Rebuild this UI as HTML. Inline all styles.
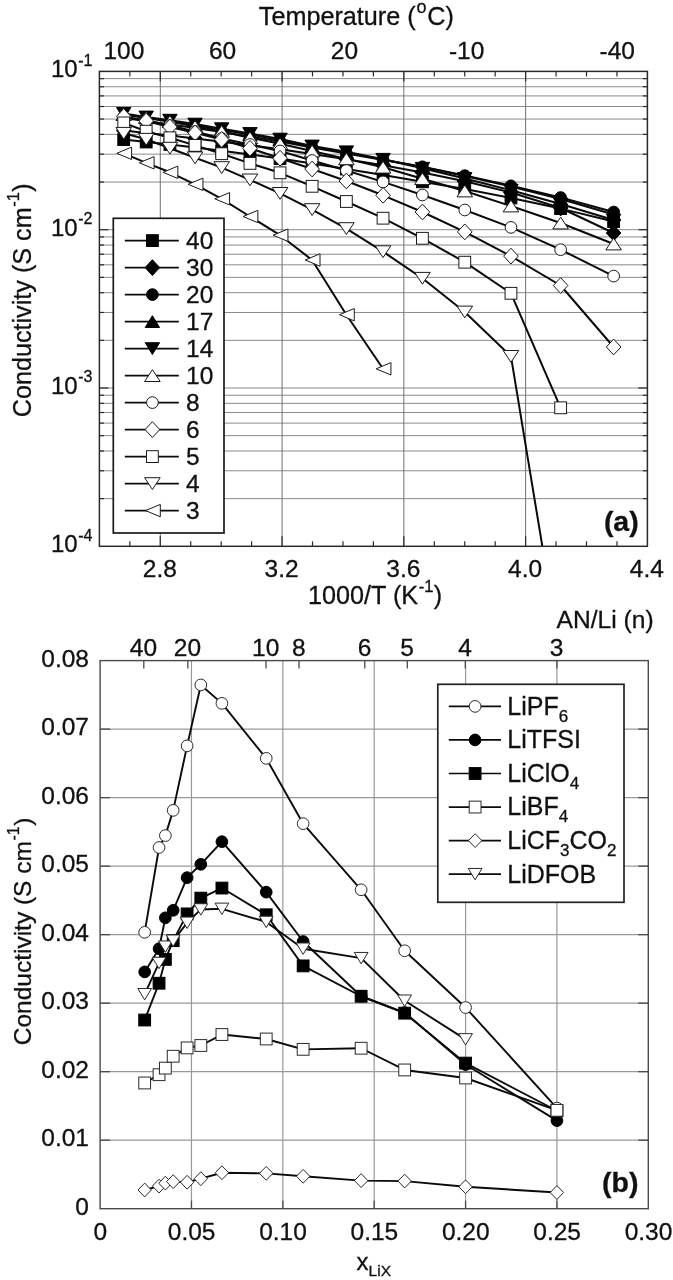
<!DOCTYPE html>
<html><head><meta charset="utf-8"><title>Conductivity</title>
<style>html,body{margin:0;padding:0;background:#fff}svg{display:block}text{font-family:"Liberation Sans", sans-serif;fill:#111;stroke:#111;stroke-width:0.3px}</style></head><body>
<svg width="673" height="1280" viewBox="0 0 673 1280">
<rect x="0" y="0" width="673" height="1280" fill="#fff"/>
<g id="chart-a">
<line x1="99.40" y1="229.70" x2="647.40" y2="229.70" stroke="#8a8a8a" stroke-width="1.0"/>
<line x1="99.40" y1="182.05" x2="647.40" y2="182.05" stroke="#8a8a8a" stroke-width="1.0"/>
<line x1="99.40" y1="154.17" x2="647.40" y2="154.17" stroke="#8a8a8a" stroke-width="1.0"/>
<line x1="99.40" y1="134.39" x2="647.40" y2="134.39" stroke="#8a8a8a" stroke-width="1.0"/>
<line x1="99.40" y1="119.05" x2="647.40" y2="119.05" stroke="#8a8a8a" stroke-width="1.0"/>
<line x1="99.40" y1="106.52" x2="647.40" y2="106.52" stroke="#8a8a8a" stroke-width="1.0"/>
<line x1="99.40" y1="95.92" x2="647.40" y2="95.92" stroke="#8a8a8a" stroke-width="1.0"/>
<line x1="99.40" y1="86.74" x2="647.40" y2="86.74" stroke="#8a8a8a" stroke-width="1.0"/>
<line x1="99.40" y1="78.64" x2="647.40" y2="78.64" stroke="#8a8a8a" stroke-width="1.0"/>
<line x1="99.40" y1="388.00" x2="647.40" y2="388.00" stroke="#8a8a8a" stroke-width="1.0"/>
<line x1="99.40" y1="340.35" x2="647.40" y2="340.35" stroke="#8a8a8a" stroke-width="1.0"/>
<line x1="99.40" y1="312.47" x2="647.40" y2="312.47" stroke="#8a8a8a" stroke-width="1.0"/>
<line x1="99.40" y1="292.69" x2="647.40" y2="292.69" stroke="#8a8a8a" stroke-width="1.0"/>
<line x1="99.40" y1="277.35" x2="647.40" y2="277.35" stroke="#8a8a8a" stroke-width="1.0"/>
<line x1="99.40" y1="264.82" x2="647.40" y2="264.82" stroke="#8a8a8a" stroke-width="1.0"/>
<line x1="99.40" y1="254.22" x2="647.40" y2="254.22" stroke="#8a8a8a" stroke-width="1.0"/>
<line x1="99.40" y1="245.04" x2="647.40" y2="245.04" stroke="#8a8a8a" stroke-width="1.0"/>
<line x1="99.40" y1="236.94" x2="647.40" y2="236.94" stroke="#8a8a8a" stroke-width="1.0"/>
<line x1="99.40" y1="498.65" x2="647.40" y2="498.65" stroke="#8a8a8a" stroke-width="1.0"/>
<line x1="99.40" y1="470.77" x2="647.40" y2="470.77" stroke="#8a8a8a" stroke-width="1.0"/>
<line x1="99.40" y1="450.99" x2="647.40" y2="450.99" stroke="#8a8a8a" stroke-width="1.0"/>
<line x1="99.40" y1="435.65" x2="647.40" y2="435.65" stroke="#8a8a8a" stroke-width="1.0"/>
<line x1="99.40" y1="423.12" x2="647.40" y2="423.12" stroke="#8a8a8a" stroke-width="1.0"/>
<line x1="99.40" y1="412.52" x2="647.40" y2="412.52" stroke="#8a8a8a" stroke-width="1.0"/>
<line x1="99.40" y1="403.34" x2="647.40" y2="403.34" stroke="#8a8a8a" stroke-width="1.0"/>
<line x1="99.40" y1="395.24" x2="647.40" y2="395.24" stroke="#8a8a8a" stroke-width="1.0"/>
<line x1="160.29" y1="71.40" x2="160.29" y2="546.30" stroke="#707070" stroke-width="1.0"/>
<line x1="282.07" y1="71.40" x2="282.07" y2="546.30" stroke="#707070" stroke-width="1.0"/>
<line x1="403.84" y1="71.40" x2="403.84" y2="546.30" stroke="#707070" stroke-width="1.0"/>
<line x1="525.62" y1="71.40" x2="525.62" y2="546.30" stroke="#707070" stroke-width="1.0"/>
<line x1="99.40" y1="229.70" x2="108.40" y2="229.70" stroke="#2a2a2a" stroke-width="1.2"/>
<line x1="638.40" y1="229.70" x2="647.40" y2="229.70" stroke="#2a2a2a" stroke-width="1.2"/>
<line x1="99.40" y1="182.05" x2="104.00" y2="182.05" stroke="#2a2a2a" stroke-width="1.2"/>
<line x1="642.80" y1="182.05" x2="647.40" y2="182.05" stroke="#2a2a2a" stroke-width="1.2"/>
<line x1="99.40" y1="154.17" x2="104.00" y2="154.17" stroke="#2a2a2a" stroke-width="1.2"/>
<line x1="642.80" y1="154.17" x2="647.40" y2="154.17" stroke="#2a2a2a" stroke-width="1.2"/>
<line x1="99.40" y1="134.39" x2="104.00" y2="134.39" stroke="#2a2a2a" stroke-width="1.2"/>
<line x1="642.80" y1="134.39" x2="647.40" y2="134.39" stroke="#2a2a2a" stroke-width="1.2"/>
<line x1="99.40" y1="119.05" x2="104.00" y2="119.05" stroke="#2a2a2a" stroke-width="1.2"/>
<line x1="642.80" y1="119.05" x2="647.40" y2="119.05" stroke="#2a2a2a" stroke-width="1.2"/>
<line x1="99.40" y1="106.52" x2="104.00" y2="106.52" stroke="#2a2a2a" stroke-width="1.2"/>
<line x1="642.80" y1="106.52" x2="647.40" y2="106.52" stroke="#2a2a2a" stroke-width="1.2"/>
<line x1="99.40" y1="95.92" x2="104.00" y2="95.92" stroke="#2a2a2a" stroke-width="1.2"/>
<line x1="642.80" y1="95.92" x2="647.40" y2="95.92" stroke="#2a2a2a" stroke-width="1.2"/>
<line x1="99.40" y1="86.74" x2="104.00" y2="86.74" stroke="#2a2a2a" stroke-width="1.2"/>
<line x1="642.80" y1="86.74" x2="647.40" y2="86.74" stroke="#2a2a2a" stroke-width="1.2"/>
<line x1="99.40" y1="78.64" x2="104.00" y2="78.64" stroke="#2a2a2a" stroke-width="1.2"/>
<line x1="642.80" y1="78.64" x2="647.40" y2="78.64" stroke="#2a2a2a" stroke-width="1.2"/>
<line x1="99.40" y1="388.00" x2="108.40" y2="388.00" stroke="#2a2a2a" stroke-width="1.2"/>
<line x1="638.40" y1="388.00" x2="647.40" y2="388.00" stroke="#2a2a2a" stroke-width="1.2"/>
<line x1="99.40" y1="340.35" x2="104.00" y2="340.35" stroke="#2a2a2a" stroke-width="1.2"/>
<line x1="642.80" y1="340.35" x2="647.40" y2="340.35" stroke="#2a2a2a" stroke-width="1.2"/>
<line x1="99.40" y1="312.47" x2="104.00" y2="312.47" stroke="#2a2a2a" stroke-width="1.2"/>
<line x1="642.80" y1="312.47" x2="647.40" y2="312.47" stroke="#2a2a2a" stroke-width="1.2"/>
<line x1="99.40" y1="292.69" x2="104.00" y2="292.69" stroke="#2a2a2a" stroke-width="1.2"/>
<line x1="642.80" y1="292.69" x2="647.40" y2="292.69" stroke="#2a2a2a" stroke-width="1.2"/>
<line x1="99.40" y1="277.35" x2="104.00" y2="277.35" stroke="#2a2a2a" stroke-width="1.2"/>
<line x1="642.80" y1="277.35" x2="647.40" y2="277.35" stroke="#2a2a2a" stroke-width="1.2"/>
<line x1="99.40" y1="264.82" x2="104.00" y2="264.82" stroke="#2a2a2a" stroke-width="1.2"/>
<line x1="642.80" y1="264.82" x2="647.40" y2="264.82" stroke="#2a2a2a" stroke-width="1.2"/>
<line x1="99.40" y1="254.22" x2="104.00" y2="254.22" stroke="#2a2a2a" stroke-width="1.2"/>
<line x1="642.80" y1="254.22" x2="647.40" y2="254.22" stroke="#2a2a2a" stroke-width="1.2"/>
<line x1="99.40" y1="245.04" x2="104.00" y2="245.04" stroke="#2a2a2a" stroke-width="1.2"/>
<line x1="642.80" y1="245.04" x2="647.40" y2="245.04" stroke="#2a2a2a" stroke-width="1.2"/>
<line x1="99.40" y1="236.94" x2="104.00" y2="236.94" stroke="#2a2a2a" stroke-width="1.2"/>
<line x1="642.80" y1="236.94" x2="647.40" y2="236.94" stroke="#2a2a2a" stroke-width="1.2"/>
<line x1="99.40" y1="498.65" x2="104.00" y2="498.65" stroke="#2a2a2a" stroke-width="1.2"/>
<line x1="642.80" y1="498.65" x2="647.40" y2="498.65" stroke="#2a2a2a" stroke-width="1.2"/>
<line x1="99.40" y1="470.77" x2="104.00" y2="470.77" stroke="#2a2a2a" stroke-width="1.2"/>
<line x1="642.80" y1="470.77" x2="647.40" y2="470.77" stroke="#2a2a2a" stroke-width="1.2"/>
<line x1="99.40" y1="450.99" x2="104.00" y2="450.99" stroke="#2a2a2a" stroke-width="1.2"/>
<line x1="642.80" y1="450.99" x2="647.40" y2="450.99" stroke="#2a2a2a" stroke-width="1.2"/>
<line x1="99.40" y1="435.65" x2="104.00" y2="435.65" stroke="#2a2a2a" stroke-width="1.2"/>
<line x1="642.80" y1="435.65" x2="647.40" y2="435.65" stroke="#2a2a2a" stroke-width="1.2"/>
<line x1="99.40" y1="423.12" x2="104.00" y2="423.12" stroke="#2a2a2a" stroke-width="1.2"/>
<line x1="642.80" y1="423.12" x2="647.40" y2="423.12" stroke="#2a2a2a" stroke-width="1.2"/>
<line x1="99.40" y1="412.52" x2="104.00" y2="412.52" stroke="#2a2a2a" stroke-width="1.2"/>
<line x1="642.80" y1="412.52" x2="647.40" y2="412.52" stroke="#2a2a2a" stroke-width="1.2"/>
<line x1="99.40" y1="403.34" x2="104.00" y2="403.34" stroke="#2a2a2a" stroke-width="1.2"/>
<line x1="642.80" y1="403.34" x2="647.40" y2="403.34" stroke="#2a2a2a" stroke-width="1.2"/>
<line x1="99.40" y1="395.24" x2="104.00" y2="395.24" stroke="#2a2a2a" stroke-width="1.2"/>
<line x1="642.80" y1="395.24" x2="647.40" y2="395.24" stroke="#2a2a2a" stroke-width="1.2"/>
<line x1="129.84" y1="541.30" x2="129.84" y2="546.30" stroke="#2a2a2a" stroke-width="1.2"/>
<line x1="129.84" y1="71.40" x2="129.84" y2="76.40" stroke="#2a2a2a" stroke-width="1.2"/>
<line x1="160.29" y1="536.30" x2="160.29" y2="546.30" stroke="#2a2a2a" stroke-width="1.2"/>
<line x1="160.29" y1="71.40" x2="160.29" y2="81.40" stroke="#2a2a2a" stroke-width="1.2"/>
<line x1="190.73" y1="541.30" x2="190.73" y2="546.30" stroke="#2a2a2a" stroke-width="1.2"/>
<line x1="190.73" y1="71.40" x2="190.73" y2="76.40" stroke="#2a2a2a" stroke-width="1.2"/>
<line x1="221.18" y1="541.30" x2="221.18" y2="546.30" stroke="#2a2a2a" stroke-width="1.2"/>
<line x1="221.18" y1="71.40" x2="221.18" y2="76.40" stroke="#2a2a2a" stroke-width="1.2"/>
<line x1="251.62" y1="541.30" x2="251.62" y2="546.30" stroke="#2a2a2a" stroke-width="1.2"/>
<line x1="251.62" y1="71.40" x2="251.62" y2="76.40" stroke="#2a2a2a" stroke-width="1.2"/>
<line x1="282.07" y1="536.30" x2="282.07" y2="546.30" stroke="#2a2a2a" stroke-width="1.2"/>
<line x1="282.07" y1="71.40" x2="282.07" y2="81.40" stroke="#2a2a2a" stroke-width="1.2"/>
<line x1="312.51" y1="541.30" x2="312.51" y2="546.30" stroke="#2a2a2a" stroke-width="1.2"/>
<line x1="312.51" y1="71.40" x2="312.51" y2="76.40" stroke="#2a2a2a" stroke-width="1.2"/>
<line x1="342.96" y1="541.30" x2="342.96" y2="546.30" stroke="#2a2a2a" stroke-width="1.2"/>
<line x1="342.96" y1="71.40" x2="342.96" y2="76.40" stroke="#2a2a2a" stroke-width="1.2"/>
<line x1="373.40" y1="541.30" x2="373.40" y2="546.30" stroke="#2a2a2a" stroke-width="1.2"/>
<line x1="373.40" y1="71.40" x2="373.40" y2="76.40" stroke="#2a2a2a" stroke-width="1.2"/>
<line x1="403.84" y1="536.30" x2="403.84" y2="546.30" stroke="#2a2a2a" stroke-width="1.2"/>
<line x1="403.84" y1="71.40" x2="403.84" y2="81.40" stroke="#2a2a2a" stroke-width="1.2"/>
<line x1="434.29" y1="541.30" x2="434.29" y2="546.30" stroke="#2a2a2a" stroke-width="1.2"/>
<line x1="434.29" y1="71.40" x2="434.29" y2="76.40" stroke="#2a2a2a" stroke-width="1.2"/>
<line x1="464.73" y1="541.30" x2="464.73" y2="546.30" stroke="#2a2a2a" stroke-width="1.2"/>
<line x1="464.73" y1="71.40" x2="464.73" y2="76.40" stroke="#2a2a2a" stroke-width="1.2"/>
<line x1="495.18" y1="541.30" x2="495.18" y2="546.30" stroke="#2a2a2a" stroke-width="1.2"/>
<line x1="495.18" y1="71.40" x2="495.18" y2="76.40" stroke="#2a2a2a" stroke-width="1.2"/>
<line x1="525.62" y1="536.30" x2="525.62" y2="546.30" stroke="#2a2a2a" stroke-width="1.2"/>
<line x1="525.62" y1="71.40" x2="525.62" y2="81.40" stroke="#2a2a2a" stroke-width="1.2"/>
<line x1="556.07" y1="541.30" x2="556.07" y2="546.30" stroke="#2a2a2a" stroke-width="1.2"/>
<line x1="556.07" y1="71.40" x2="556.07" y2="76.40" stroke="#2a2a2a" stroke-width="1.2"/>
<line x1="586.51" y1="541.30" x2="586.51" y2="546.30" stroke="#2a2a2a" stroke-width="1.2"/>
<line x1="586.51" y1="71.40" x2="586.51" y2="76.40" stroke="#2a2a2a" stroke-width="1.2"/>
<line x1="616.96" y1="541.30" x2="616.96" y2="546.30" stroke="#2a2a2a" stroke-width="1.2"/>
<line x1="616.96" y1="71.40" x2="616.96" y2="76.40" stroke="#2a2a2a" stroke-width="1.2"/>
<clipPath id="clipA"><rect x="99.4" y="71.4" width="548.0" height="474.9"/></clipPath>
<g clip-path="url(#clipA)">
<polyline points="123.72,139.60 146.19,142.00 169.93,144.40 195.05,147.50 221.68,150.80 249.96,154.50 280.04,158.50 312.11,163.50 346.37,169.00 383.05,175.00 422.41,181.80 464.77,189.00 510.97,198.00 560.63,208.60 613.63,221.50" fill="none" stroke="#0a0a0a" stroke-width="2.0" stroke-linejoin="round" />
<rect x="117.82" y="133.70" width="11.80" height="11.80" fill="#000" stroke="#000" stroke-width="1.0" stroke-linejoin="miter"/>
<rect x="140.29" y="136.10" width="11.80" height="11.80" fill="#000" stroke="#000" stroke-width="1.0" stroke-linejoin="miter"/>
<rect x="164.03" y="138.50" width="11.80" height="11.80" fill="#000" stroke="#000" stroke-width="1.0" stroke-linejoin="miter"/>
<rect x="189.15" y="141.60" width="11.80" height="11.80" fill="#000" stroke="#000" stroke-width="1.0" stroke-linejoin="miter"/>
<rect x="215.78" y="144.90" width="11.80" height="11.80" fill="#000" stroke="#000" stroke-width="1.0" stroke-linejoin="miter"/>
<rect x="244.06" y="148.60" width="11.80" height="11.80" fill="#000" stroke="#000" stroke-width="1.0" stroke-linejoin="miter"/>
<rect x="274.14" y="152.60" width="11.80" height="11.80" fill="#000" stroke="#000" stroke-width="1.0" stroke-linejoin="miter"/>
<rect x="306.21" y="157.60" width="11.80" height="11.80" fill="#000" stroke="#000" stroke-width="1.0" stroke-linejoin="miter"/>
<rect x="340.47" y="163.10" width="11.80" height="11.80" fill="#000" stroke="#000" stroke-width="1.0" stroke-linejoin="miter"/>
<rect x="377.15" y="169.10" width="11.80" height="11.80" fill="#000" stroke="#000" stroke-width="1.0" stroke-linejoin="miter"/>
<rect x="416.51" y="175.90" width="11.80" height="11.80" fill="#000" stroke="#000" stroke-width="1.0" stroke-linejoin="miter"/>
<rect x="458.87" y="183.10" width="11.80" height="11.80" fill="#000" stroke="#000" stroke-width="1.0" stroke-linejoin="miter"/>
<rect x="505.07" y="192.10" width="11.80" height="11.80" fill="#000" stroke="#000" stroke-width="1.0" stroke-linejoin="miter"/>
<rect x="554.73" y="202.70" width="11.80" height="11.80" fill="#000" stroke="#000" stroke-width="1.0" stroke-linejoin="miter"/>
<rect x="607.73" y="215.60" width="11.80" height="11.80" fill="#000" stroke="#000" stroke-width="1.0" stroke-linejoin="miter"/>
<polyline points="123.72,130.50 146.19,133.00 169.93,135.60 195.05,138.50 221.68,141.80 249.96,145.30 280.04,149.30 312.11,154.00 346.37,159.20 383.05,165.30 422.41,172.40 464.77,181.20 510.97,192.50 560.63,208.00 613.63,233.00" fill="none" stroke="#0a0a0a" stroke-width="2.0" stroke-linejoin="round" />
<polygon points="123.72,122.60 131.02,130.50 123.72,138.40 116.42,130.50" fill="#000" stroke="#000" stroke-width="1.0" stroke-linejoin="miter"/>
<polygon points="146.19,125.10 153.49,133.00 146.19,140.90 138.89,133.00" fill="#000" stroke="#000" stroke-width="1.0" stroke-linejoin="miter"/>
<polygon points="169.93,127.70 177.23,135.60 169.93,143.50 162.63,135.60" fill="#000" stroke="#000" stroke-width="1.0" stroke-linejoin="miter"/>
<polygon points="195.05,130.60 202.35,138.50 195.05,146.40 187.75,138.50" fill="#000" stroke="#000" stroke-width="1.0" stroke-linejoin="miter"/>
<polygon points="221.68,133.90 228.98,141.80 221.68,149.70 214.38,141.80" fill="#000" stroke="#000" stroke-width="1.0" stroke-linejoin="miter"/>
<polygon points="249.96,137.40 257.26,145.30 249.96,153.20 242.66,145.30" fill="#000" stroke="#000" stroke-width="1.0" stroke-linejoin="miter"/>
<polygon points="280.04,141.40 287.34,149.30 280.04,157.20 272.74,149.30" fill="#000" stroke="#000" stroke-width="1.0" stroke-linejoin="miter"/>
<polygon points="312.11,146.10 319.41,154.00 312.11,161.90 304.81,154.00" fill="#000" stroke="#000" stroke-width="1.0" stroke-linejoin="miter"/>
<polygon points="346.37,151.30 353.67,159.20 346.37,167.10 339.07,159.20" fill="#000" stroke="#000" stroke-width="1.0" stroke-linejoin="miter"/>
<polygon points="383.05,157.40 390.35,165.30 383.05,173.20 375.75,165.30" fill="#000" stroke="#000" stroke-width="1.0" stroke-linejoin="miter"/>
<polygon points="422.41,164.50 429.71,172.40 422.41,180.30 415.11,172.40" fill="#000" stroke="#000" stroke-width="1.0" stroke-linejoin="miter"/>
<polygon points="464.77,173.30 472.07,181.20 464.77,189.10 457.47,181.20" fill="#000" stroke="#000" stroke-width="1.0" stroke-linejoin="miter"/>
<polygon points="510.97,184.60 518.27,192.50 510.97,200.40 503.67,192.50" fill="#000" stroke="#000" stroke-width="1.0" stroke-linejoin="miter"/>
<polygon points="560.63,200.10 567.93,208.00 560.63,215.90 553.33,208.00" fill="#000" stroke="#000" stroke-width="1.0" stroke-linejoin="miter"/>
<polygon points="613.63,225.10 620.93,233.00 613.63,240.90 606.33,233.00" fill="#000" stroke="#000" stroke-width="1.0" stroke-linejoin="miter"/>
<polyline points="123.72,118.00 146.19,121.00 169.93,124.50 195.05,128.00 221.68,132.00 249.96,136.50 280.04,141.50 312.11,147.50 346.37,153.50 383.05,160.00 422.41,166.80 464.77,175.60 510.97,185.80 560.63,197.50 613.63,212.00" fill="none" stroke="#0a0a0a" stroke-width="2.0" stroke-linejoin="round" />
<circle cx="123.72" cy="118.00" r="5.85" fill="#000" stroke="#000" stroke-width="1.0" stroke-linejoin="miter"/>
<circle cx="146.19" cy="121.00" r="5.85" fill="#000" stroke="#000" stroke-width="1.0" stroke-linejoin="miter"/>
<circle cx="169.93" cy="124.50" r="5.85" fill="#000" stroke="#000" stroke-width="1.0" stroke-linejoin="miter"/>
<circle cx="195.05" cy="128.00" r="5.85" fill="#000" stroke="#000" stroke-width="1.0" stroke-linejoin="miter"/>
<circle cx="221.68" cy="132.00" r="5.85" fill="#000" stroke="#000" stroke-width="1.0" stroke-linejoin="miter"/>
<circle cx="249.96" cy="136.50" r="5.85" fill="#000" stroke="#000" stroke-width="1.0" stroke-linejoin="miter"/>
<circle cx="280.04" cy="141.50" r="5.85" fill="#000" stroke="#000" stroke-width="1.0" stroke-linejoin="miter"/>
<circle cx="312.11" cy="147.50" r="5.85" fill="#000" stroke="#000" stroke-width="1.0" stroke-linejoin="miter"/>
<circle cx="346.37" cy="153.50" r="5.85" fill="#000" stroke="#000" stroke-width="1.0" stroke-linejoin="miter"/>
<circle cx="383.05" cy="160.00" r="5.85" fill="#000" stroke="#000" stroke-width="1.0" stroke-linejoin="miter"/>
<circle cx="422.41" cy="166.80" r="5.85" fill="#000" stroke="#000" stroke-width="1.0" stroke-linejoin="miter"/>
<circle cx="464.77" cy="175.60" r="5.85" fill="#000" stroke="#000" stroke-width="1.0" stroke-linejoin="miter"/>
<circle cx="510.97" cy="185.80" r="5.85" fill="#000" stroke="#000" stroke-width="1.0" stroke-linejoin="miter"/>
<circle cx="560.63" cy="197.50" r="5.85" fill="#000" stroke="#000" stroke-width="1.0" stroke-linejoin="miter"/>
<circle cx="613.63" cy="212.00" r="5.85" fill="#000" stroke="#000" stroke-width="1.0" stroke-linejoin="miter"/>
<polyline points="123.72,114.50 146.19,118.00 169.93,121.50 195.05,125.50 221.68,129.80 249.96,134.50 280.04,140.00 312.11,146.50 346.37,152.50 383.05,159.50 422.41,167.00 464.77,176.00 510.97,186.50 560.63,199.00 613.63,214.50" fill="none" stroke="#0a0a0a" stroke-width="2.0" stroke-linejoin="round" />
<polygon points="123.72,108.60 130.92,120.40 116.52,120.40" fill="#000" stroke="#000" stroke-width="1.0" stroke-linejoin="miter"/>
<polygon points="146.19,112.10 153.39,123.90 138.99,123.90" fill="#000" stroke="#000" stroke-width="1.0" stroke-linejoin="miter"/>
<polygon points="169.93,115.60 177.13,127.40 162.73,127.40" fill="#000" stroke="#000" stroke-width="1.0" stroke-linejoin="miter"/>
<polygon points="195.05,119.60 202.25,131.40 187.85,131.40" fill="#000" stroke="#000" stroke-width="1.0" stroke-linejoin="miter"/>
<polygon points="221.68,123.90 228.88,135.70 214.48,135.70" fill="#000" stroke="#000" stroke-width="1.0" stroke-linejoin="miter"/>
<polygon points="249.96,128.60 257.16,140.40 242.76,140.40" fill="#000" stroke="#000" stroke-width="1.0" stroke-linejoin="miter"/>
<polygon points="280.04,134.10 287.24,145.90 272.84,145.90" fill="#000" stroke="#000" stroke-width="1.0" stroke-linejoin="miter"/>
<polygon points="312.11,140.60 319.31,152.40 304.91,152.40" fill="#000" stroke="#000" stroke-width="1.0" stroke-linejoin="miter"/>
<polygon points="346.37,146.60 353.57,158.40 339.17,158.40" fill="#000" stroke="#000" stroke-width="1.0" stroke-linejoin="miter"/>
<polygon points="383.05,153.60 390.25,165.40 375.85,165.40" fill="#000" stroke="#000" stroke-width="1.0" stroke-linejoin="miter"/>
<polygon points="422.41,161.10 429.61,172.90 415.21,172.90" fill="#000" stroke="#000" stroke-width="1.0" stroke-linejoin="miter"/>
<polygon points="464.77,170.10 471.97,181.90 457.57,181.90" fill="#000" stroke="#000" stroke-width="1.0" stroke-linejoin="miter"/>
<polygon points="510.97,180.60 518.17,192.40 503.77,192.40" fill="#000" stroke="#000" stroke-width="1.0" stroke-linejoin="miter"/>
<polygon points="560.63,193.10 567.83,204.90 553.43,204.90" fill="#000" stroke="#000" stroke-width="1.0" stroke-linejoin="miter"/>
<polygon points="613.63,208.60 620.83,220.40 606.43,220.40" fill="#000" stroke="#000" stroke-width="1.0" stroke-linejoin="miter"/>
<polyline points="123.72,113.40 146.19,117.00 169.93,120.20 195.05,124.10 221.68,128.70 249.96,133.50 280.04,139.10 312.11,146.00 346.37,151.80 383.05,159.30 422.41,168.30 464.77,178.50 510.97,190.30 560.63,204.00 613.63,220.00" fill="none" stroke="#0a0a0a" stroke-width="2.0" stroke-linejoin="round" />
<polygon points="116.52,107.50 130.92,107.50 123.72,119.30" fill="#000" stroke="#000" stroke-width="1.0" stroke-linejoin="miter"/>
<polygon points="138.99,111.10 153.39,111.10 146.19,122.90" fill="#000" stroke="#000" stroke-width="1.0" stroke-linejoin="miter"/>
<polygon points="162.73,114.30 177.13,114.30 169.93,126.10" fill="#000" stroke="#000" stroke-width="1.0" stroke-linejoin="miter"/>
<polygon points="187.85,118.20 202.25,118.20 195.05,130.00" fill="#000" stroke="#000" stroke-width="1.0" stroke-linejoin="miter"/>
<polygon points="214.48,122.80 228.88,122.80 221.68,134.60" fill="#000" stroke="#000" stroke-width="1.0" stroke-linejoin="miter"/>
<polygon points="242.76,127.60 257.16,127.60 249.96,139.40" fill="#000" stroke="#000" stroke-width="1.0" stroke-linejoin="miter"/>
<polygon points="272.84,133.20 287.24,133.20 280.04,145.00" fill="#000" stroke="#000" stroke-width="1.0" stroke-linejoin="miter"/>
<polygon points="304.91,140.10 319.31,140.10 312.11,151.90" fill="#000" stroke="#000" stroke-width="1.0" stroke-linejoin="miter"/>
<polygon points="339.17,145.90 353.57,145.90 346.37,157.70" fill="#000" stroke="#000" stroke-width="1.0" stroke-linejoin="miter"/>
<polygon points="375.85,153.40 390.25,153.40 383.05,165.20" fill="#000" stroke="#000" stroke-width="1.0" stroke-linejoin="miter"/>
<polygon points="415.21,162.40 429.61,162.40 422.41,174.20" fill="#000" stroke="#000" stroke-width="1.0" stroke-linejoin="miter"/>
<polygon points="457.57,172.60 471.97,172.60 464.77,184.40" fill="#000" stroke="#000" stroke-width="1.0" stroke-linejoin="miter"/>
<polygon points="503.77,184.40 518.17,184.40 510.97,196.20" fill="#000" stroke="#000" stroke-width="1.0" stroke-linejoin="miter"/>
<polygon points="553.43,198.10 567.83,198.10 560.63,209.90" fill="#000" stroke="#000" stroke-width="1.0" stroke-linejoin="miter"/>
<polygon points="606.43,214.10 620.83,214.10 613.63,225.90" fill="#000" stroke="#000" stroke-width="1.0" stroke-linejoin="miter"/>
<polyline points="123.72,114.50 146.19,117.50 169.93,121.50 195.05,126.50 221.68,131.40 249.96,137.70 280.04,143.70 312.11,151.00 346.37,158.90 383.05,167.20 422.41,178.70 464.77,191.00 510.97,206.00 560.63,223.00 613.63,244.00" fill="none" stroke="#0a0a0a" stroke-width="2.0" stroke-linejoin="round" />
<polygon points="123.72,108.60 131.52,120.40 115.92,120.40" fill="#fff" stroke="#1a1a1a" stroke-width="1.0" stroke-linejoin="miter"/>
<polygon points="146.19,111.60 153.99,123.40 138.39,123.40" fill="#fff" stroke="#1a1a1a" stroke-width="1.0" stroke-linejoin="miter"/>
<polygon points="169.93,115.60 177.73,127.40 162.13,127.40" fill="#fff" stroke="#1a1a1a" stroke-width="1.0" stroke-linejoin="miter"/>
<polygon points="195.05,120.60 202.85,132.40 187.25,132.40" fill="#fff" stroke="#1a1a1a" stroke-width="1.0" stroke-linejoin="miter"/>
<polygon points="221.68,125.50 229.48,137.30 213.88,137.30" fill="#fff" stroke="#1a1a1a" stroke-width="1.0" stroke-linejoin="miter"/>
<polygon points="249.96,131.80 257.76,143.60 242.16,143.60" fill="#fff" stroke="#1a1a1a" stroke-width="1.0" stroke-linejoin="miter"/>
<polygon points="280.04,137.80 287.84,149.60 272.24,149.60" fill="#fff" stroke="#1a1a1a" stroke-width="1.0" stroke-linejoin="miter"/>
<polygon points="312.11,145.10 319.91,156.90 304.31,156.90" fill="#fff" stroke="#1a1a1a" stroke-width="1.0" stroke-linejoin="miter"/>
<polygon points="346.37,153.00 354.17,164.80 338.57,164.80" fill="#fff" stroke="#1a1a1a" stroke-width="1.0" stroke-linejoin="miter"/>
<polygon points="383.05,161.30 390.85,173.10 375.25,173.10" fill="#fff" stroke="#1a1a1a" stroke-width="1.0" stroke-linejoin="miter"/>
<polygon points="422.41,172.80 430.21,184.60 414.61,184.60" fill="#fff" stroke="#1a1a1a" stroke-width="1.0" stroke-linejoin="miter"/>
<polygon points="464.77,185.10 472.57,196.90 456.97,196.90" fill="#fff" stroke="#1a1a1a" stroke-width="1.0" stroke-linejoin="miter"/>
<polygon points="510.97,200.10 518.77,211.90 503.17,211.90" fill="#fff" stroke="#1a1a1a" stroke-width="1.0" stroke-linejoin="miter"/>
<polygon points="560.63,217.10 568.43,228.90 552.83,228.90" fill="#fff" stroke="#1a1a1a" stroke-width="1.0" stroke-linejoin="miter"/>
<polygon points="613.63,238.10 621.43,249.90 605.83,249.90" fill="#fff" stroke="#1a1a1a" stroke-width="1.0" stroke-linejoin="miter"/>
<polyline points="123.72,117.00 146.19,120.50 169.93,125.50 195.05,131.50 221.68,138.50 249.96,144.50 280.04,151.00 312.11,160.50 346.37,170.50 383.05,181.90 422.41,195.00 464.77,210.00 510.97,227.40 560.63,249.70 613.63,276.10" fill="none" stroke="#0a0a0a" stroke-width="2.0" stroke-linejoin="round" />
<circle cx="123.72" cy="117.00" r="5.85" fill="#fff" stroke="#1a1a1a" stroke-width="1.0" stroke-linejoin="miter"/>
<circle cx="146.19" cy="120.50" r="5.85" fill="#fff" stroke="#1a1a1a" stroke-width="1.0" stroke-linejoin="miter"/>
<circle cx="169.93" cy="125.50" r="5.85" fill="#fff" stroke="#1a1a1a" stroke-width="1.0" stroke-linejoin="miter"/>
<circle cx="195.05" cy="131.50" r="5.85" fill="#fff" stroke="#1a1a1a" stroke-width="1.0" stroke-linejoin="miter"/>
<circle cx="221.68" cy="138.50" r="5.85" fill="#fff" stroke="#1a1a1a" stroke-width="1.0" stroke-linejoin="miter"/>
<circle cx="249.96" cy="144.50" r="5.85" fill="#fff" stroke="#1a1a1a" stroke-width="1.0" stroke-linejoin="miter"/>
<circle cx="280.04" cy="151.00" r="5.85" fill="#fff" stroke="#1a1a1a" stroke-width="1.0" stroke-linejoin="miter"/>
<circle cx="312.11" cy="160.50" r="5.85" fill="#fff" stroke="#1a1a1a" stroke-width="1.0" stroke-linejoin="miter"/>
<circle cx="346.37" cy="170.50" r="5.85" fill="#fff" stroke="#1a1a1a" stroke-width="1.0" stroke-linejoin="miter"/>
<circle cx="383.05" cy="181.90" r="5.85" fill="#fff" stroke="#1a1a1a" stroke-width="1.0" stroke-linejoin="miter"/>
<circle cx="422.41" cy="195.00" r="5.85" fill="#fff" stroke="#1a1a1a" stroke-width="1.0" stroke-linejoin="miter"/>
<circle cx="464.77" cy="210.00" r="5.85" fill="#fff" stroke="#1a1a1a" stroke-width="1.0" stroke-linejoin="miter"/>
<circle cx="510.97" cy="227.40" r="5.85" fill="#fff" stroke="#1a1a1a" stroke-width="1.0" stroke-linejoin="miter"/>
<circle cx="560.63" cy="249.70" r="5.85" fill="#fff" stroke="#1a1a1a" stroke-width="1.0" stroke-linejoin="miter"/>
<circle cx="613.63" cy="276.10" r="5.85" fill="#fff" stroke="#1a1a1a" stroke-width="1.0" stroke-linejoin="miter"/>
<polyline points="123.72,116.50 146.19,121.00 169.93,127.00 195.05,132.90 221.68,139.50 249.96,148.30 280.04,158.20 312.11,169.00 346.37,181.00 383.05,195.30 422.41,212.00 464.77,231.90 510.97,256.10 560.63,285.50 613.63,347.00" fill="none" stroke="#0a0a0a" stroke-width="2.0" stroke-linejoin="round" />
<polygon points="123.72,108.60 131.02,116.50 123.72,124.40 116.42,116.50" fill="#fff" stroke="#1a1a1a" stroke-width="1.0" stroke-linejoin="miter"/>
<polygon points="146.19,113.10 153.49,121.00 146.19,128.90 138.89,121.00" fill="#fff" stroke="#1a1a1a" stroke-width="1.0" stroke-linejoin="miter"/>
<polygon points="169.93,119.10 177.23,127.00 169.93,134.90 162.63,127.00" fill="#fff" stroke="#1a1a1a" stroke-width="1.0" stroke-linejoin="miter"/>
<polygon points="195.05,125.00 202.35,132.90 195.05,140.80 187.75,132.90" fill="#fff" stroke="#1a1a1a" stroke-width="1.0" stroke-linejoin="miter"/>
<polygon points="221.68,131.60 228.98,139.50 221.68,147.40 214.38,139.50" fill="#fff" stroke="#1a1a1a" stroke-width="1.0" stroke-linejoin="miter"/>
<polygon points="249.96,140.40 257.26,148.30 249.96,156.20 242.66,148.30" fill="#fff" stroke="#1a1a1a" stroke-width="1.0" stroke-linejoin="miter"/>
<polygon points="280.04,150.30 287.34,158.20 280.04,166.10 272.74,158.20" fill="#fff" stroke="#1a1a1a" stroke-width="1.0" stroke-linejoin="miter"/>
<polygon points="312.11,161.10 319.41,169.00 312.11,176.90 304.81,169.00" fill="#fff" stroke="#1a1a1a" stroke-width="1.0" stroke-linejoin="miter"/>
<polygon points="346.37,173.10 353.67,181.00 346.37,188.90 339.07,181.00" fill="#fff" stroke="#1a1a1a" stroke-width="1.0" stroke-linejoin="miter"/>
<polygon points="383.05,187.40 390.35,195.30 383.05,203.20 375.75,195.30" fill="#fff" stroke="#1a1a1a" stroke-width="1.0" stroke-linejoin="miter"/>
<polygon points="422.41,204.10 429.71,212.00 422.41,219.90 415.11,212.00" fill="#fff" stroke="#1a1a1a" stroke-width="1.0" stroke-linejoin="miter"/>
<polygon points="464.77,224.00 472.07,231.90 464.77,239.80 457.47,231.90" fill="#fff" stroke="#1a1a1a" stroke-width="1.0" stroke-linejoin="miter"/>
<polygon points="510.97,248.20 518.27,256.10 510.97,264.00 503.67,256.10" fill="#fff" stroke="#1a1a1a" stroke-width="1.0" stroke-linejoin="miter"/>
<polygon points="560.63,277.60 567.93,285.50 560.63,293.40 553.33,285.50" fill="#fff" stroke="#1a1a1a" stroke-width="1.0" stroke-linejoin="miter"/>
<polygon points="613.63,339.10 620.93,347.00 613.63,354.90 606.33,347.00" fill="#fff" stroke="#1a1a1a" stroke-width="1.0" stroke-linejoin="miter"/>
<polyline points="123.72,122.90 146.19,131.20 169.93,137.80 195.05,145.40 221.68,153.70 249.96,163.40 280.04,172.80 312.11,186.30 346.37,201.50 383.05,218.20 422.41,238.30 464.77,262.20 510.97,293.30 560.63,407.80" fill="none" stroke="#0a0a0a" stroke-width="2.0" stroke-linejoin="round" />
<rect x="117.82" y="117.00" width="11.80" height="11.80" fill="#fff" stroke="#1a1a1a" stroke-width="1.0" stroke-linejoin="miter"/>
<rect x="140.29" y="125.30" width="11.80" height="11.80" fill="#fff" stroke="#1a1a1a" stroke-width="1.0" stroke-linejoin="miter"/>
<rect x="164.03" y="131.90" width="11.80" height="11.80" fill="#fff" stroke="#1a1a1a" stroke-width="1.0" stroke-linejoin="miter"/>
<rect x="189.15" y="139.50" width="11.80" height="11.80" fill="#fff" stroke="#1a1a1a" stroke-width="1.0" stroke-linejoin="miter"/>
<rect x="215.78" y="147.80" width="11.80" height="11.80" fill="#fff" stroke="#1a1a1a" stroke-width="1.0" stroke-linejoin="miter"/>
<rect x="244.06" y="157.50" width="11.80" height="11.80" fill="#fff" stroke="#1a1a1a" stroke-width="1.0" stroke-linejoin="miter"/>
<rect x="274.14" y="166.90" width="11.80" height="11.80" fill="#fff" stroke="#1a1a1a" stroke-width="1.0" stroke-linejoin="miter"/>
<rect x="306.21" y="180.40" width="11.80" height="11.80" fill="#fff" stroke="#1a1a1a" stroke-width="1.0" stroke-linejoin="miter"/>
<rect x="340.47" y="195.60" width="11.80" height="11.80" fill="#fff" stroke="#1a1a1a" stroke-width="1.0" stroke-linejoin="miter"/>
<rect x="377.15" y="212.30" width="11.80" height="11.80" fill="#fff" stroke="#1a1a1a" stroke-width="1.0" stroke-linejoin="miter"/>
<rect x="416.51" y="232.40" width="11.80" height="11.80" fill="#fff" stroke="#1a1a1a" stroke-width="1.0" stroke-linejoin="miter"/>
<rect x="458.87" y="256.30" width="11.80" height="11.80" fill="#fff" stroke="#1a1a1a" stroke-width="1.0" stroke-linejoin="miter"/>
<rect x="505.07" y="287.40" width="11.80" height="11.80" fill="#fff" stroke="#1a1a1a" stroke-width="1.0" stroke-linejoin="miter"/>
<rect x="554.73" y="401.90" width="11.80" height="11.80" fill="#fff" stroke="#1a1a1a" stroke-width="1.0" stroke-linejoin="miter"/>
<polyline points="123.72,133.30 146.19,139.30 169.93,148.20 195.05,157.80 221.68,167.60 249.96,179.90 280.04,193.40 312.11,209.60 346.37,228.60 383.05,251.70 422.41,278.30 464.77,312.00 510.97,356.40 560.63,657.00" fill="none" stroke="#0a0a0a" stroke-width="2.0" stroke-linejoin="round" />
<polygon points="115.92,127.40 131.52,127.40 123.72,139.20" fill="#fff" stroke="#1a1a1a" stroke-width="1.0" stroke-linejoin="miter"/>
<polygon points="138.39,133.40 153.99,133.40 146.19,145.20" fill="#fff" stroke="#1a1a1a" stroke-width="1.0" stroke-linejoin="miter"/>
<polygon points="162.13,142.30 177.73,142.30 169.93,154.10" fill="#fff" stroke="#1a1a1a" stroke-width="1.0" stroke-linejoin="miter"/>
<polygon points="187.25,151.90 202.85,151.90 195.05,163.70" fill="#fff" stroke="#1a1a1a" stroke-width="1.0" stroke-linejoin="miter"/>
<polygon points="213.88,161.70 229.48,161.70 221.68,173.50" fill="#fff" stroke="#1a1a1a" stroke-width="1.0" stroke-linejoin="miter"/>
<polygon points="242.16,174.00 257.76,174.00 249.96,185.80" fill="#fff" stroke="#1a1a1a" stroke-width="1.0" stroke-linejoin="miter"/>
<polygon points="272.24,187.50 287.84,187.50 280.04,199.30" fill="#fff" stroke="#1a1a1a" stroke-width="1.0" stroke-linejoin="miter"/>
<polygon points="304.31,203.70 319.91,203.70 312.11,215.50" fill="#fff" stroke="#1a1a1a" stroke-width="1.0" stroke-linejoin="miter"/>
<polygon points="338.57,222.70 354.17,222.70 346.37,234.50" fill="#fff" stroke="#1a1a1a" stroke-width="1.0" stroke-linejoin="miter"/>
<polygon points="375.25,245.80 390.85,245.80 383.05,257.60" fill="#fff" stroke="#1a1a1a" stroke-width="1.0" stroke-linejoin="miter"/>
<polygon points="414.61,272.40 430.21,272.40 422.41,284.20" fill="#fff" stroke="#1a1a1a" stroke-width="1.0" stroke-linejoin="miter"/>
<polygon points="456.97,306.10 472.57,306.10 464.77,317.90" fill="#fff" stroke="#1a1a1a" stroke-width="1.0" stroke-linejoin="miter"/>
<polygon points="503.17,350.50 518.77,350.50 510.97,362.30" fill="#fff" stroke="#1a1a1a" stroke-width="1.0" stroke-linejoin="miter"/>
<polyline points="123.72,153.30 146.19,162.80 169.93,172.30 195.05,184.30 221.68,198.80 249.96,216.50 280.04,235.20 312.11,260.00 346.37,314.70 383.05,368.80" fill="none" stroke="#0a0a0a" stroke-width="2.0" stroke-linejoin="round" />
<polygon points="116.82,153.30 131.62,147.10 131.62,159.50" fill="#fff" stroke="#1a1a1a" stroke-width="1.0" stroke-linejoin="miter"/>
<polygon points="139.29,162.80 154.09,156.60 154.09,169.00" fill="#fff" stroke="#1a1a1a" stroke-width="1.0" stroke-linejoin="miter"/>
<polygon points="163.03,172.30 177.83,166.10 177.83,178.50" fill="#fff" stroke="#1a1a1a" stroke-width="1.0" stroke-linejoin="miter"/>
<polygon points="188.15,184.30 202.95,178.10 202.95,190.50" fill="#fff" stroke="#1a1a1a" stroke-width="1.0" stroke-linejoin="miter"/>
<polygon points="214.78,198.80 229.58,192.60 229.58,205.00" fill="#fff" stroke="#1a1a1a" stroke-width="1.0" stroke-linejoin="miter"/>
<polygon points="243.06,216.50 257.86,210.30 257.86,222.70" fill="#fff" stroke="#1a1a1a" stroke-width="1.0" stroke-linejoin="miter"/>
<polygon points="273.14,235.20 287.94,229.00 287.94,241.40" fill="#fff" stroke="#1a1a1a" stroke-width="1.0" stroke-linejoin="miter"/>
<polygon points="305.21,260.00 320.01,253.80 320.01,266.20" fill="#fff" stroke="#1a1a1a" stroke-width="1.0" stroke-linejoin="miter"/>
<polygon points="339.47,314.70 354.27,308.50 354.27,320.90" fill="#fff" stroke="#1a1a1a" stroke-width="1.0" stroke-linejoin="miter"/>
<polygon points="376.15,368.80 390.95,362.60 390.95,375.00" fill="#fff" stroke="#1a1a1a" stroke-width="1.0" stroke-linejoin="miter"/>
</g>
<rect x="99.4" y="71.4" width="548.0" height="474.9" fill="none" stroke="#2a2a2a" stroke-width="1.5"/>
<rect x="113.3" y="218.3" width="110.7" height="314.7" fill="#fff" stroke="#1a1a1a" stroke-width="1.7"/>
<line x1="124.80" y1="240.60" x2="178.80" y2="240.60" stroke="#0a0a0a" stroke-width="1.8"/>
<rect x="146.50" y="234.70" width="11.80" height="11.80" fill="#000" stroke="#000" stroke-width="1.0" stroke-linejoin="miter"/>
<text x="186.00" y="249.00" font-size="24.5" text-anchor="start" font-weight="normal" >40</text>
<line x1="124.80" y1="267.60" x2="178.80" y2="267.60" stroke="#0a0a0a" stroke-width="1.8"/>
<polygon points="152.40,259.70 159.70,267.60 152.40,275.50 145.10,267.60" fill="#000" stroke="#000" stroke-width="1.0" stroke-linejoin="miter"/>
<text x="186.00" y="276.00" font-size="24.5" text-anchor="start" font-weight="normal" >30</text>
<line x1="124.80" y1="294.60" x2="178.80" y2="294.60" stroke="#0a0a0a" stroke-width="1.8"/>
<circle cx="152.40" cy="294.60" r="5.85" fill="#000" stroke="#000" stroke-width="1.0" stroke-linejoin="miter"/>
<text x="186.00" y="303.00" font-size="24.5" text-anchor="start" font-weight="normal" >20</text>
<line x1="124.80" y1="321.60" x2="178.80" y2="321.60" stroke="#0a0a0a" stroke-width="1.8"/>
<polygon points="152.40,315.70 159.60,327.50 145.20,327.50" fill="#000" stroke="#000" stroke-width="1.0" stroke-linejoin="miter"/>
<text x="186.00" y="330.00" font-size="24.5" text-anchor="start" font-weight="normal" >17</text>
<line x1="124.80" y1="348.60" x2="178.80" y2="348.60" stroke="#0a0a0a" stroke-width="1.8"/>
<polygon points="145.20,342.70 159.60,342.70 152.40,354.50" fill="#000" stroke="#000" stroke-width="1.0" stroke-linejoin="miter"/>
<text x="186.00" y="357.00" font-size="24.5" text-anchor="start" font-weight="normal" >14</text>
<line x1="124.80" y1="375.60" x2="178.80" y2="375.60" stroke="#0a0a0a" stroke-width="1.8"/>
<polygon points="152.40,369.70 160.20,381.50 144.60,381.50" fill="#fff" stroke="#1a1a1a" stroke-width="1.0" stroke-linejoin="miter"/>
<text x="186.00" y="384.00" font-size="24.5" text-anchor="start" font-weight="normal" >10</text>
<line x1="124.80" y1="402.60" x2="178.80" y2="402.60" stroke="#0a0a0a" stroke-width="1.8"/>
<circle cx="152.40" cy="402.60" r="5.85" fill="#fff" stroke="#1a1a1a" stroke-width="1.0" stroke-linejoin="miter"/>
<text x="186.00" y="411.00" font-size="24.5" text-anchor="start" font-weight="normal" >8</text>
<line x1="124.80" y1="429.60" x2="178.80" y2="429.60" stroke="#0a0a0a" stroke-width="1.8"/>
<polygon points="152.40,421.70 159.70,429.60 152.40,437.50 145.10,429.60" fill="#fff" stroke="#1a1a1a" stroke-width="1.0" stroke-linejoin="miter"/>
<text x="186.00" y="438.00" font-size="24.5" text-anchor="start" font-weight="normal" >6</text>
<line x1="124.80" y1="456.60" x2="178.80" y2="456.60" stroke="#0a0a0a" stroke-width="1.8"/>
<rect x="146.50" y="450.70" width="11.80" height="11.80" fill="#fff" stroke="#1a1a1a" stroke-width="1.0" stroke-linejoin="miter"/>
<text x="186.00" y="465.00" font-size="24.5" text-anchor="start" font-weight="normal" >5</text>
<line x1="124.80" y1="483.60" x2="178.80" y2="483.60" stroke="#0a0a0a" stroke-width="1.8"/>
<polygon points="144.60,477.70 160.20,477.70 152.40,489.50" fill="#fff" stroke="#1a1a1a" stroke-width="1.0" stroke-linejoin="miter"/>
<text x="186.00" y="492.00" font-size="24.5" text-anchor="start" font-weight="normal" >4</text>
<line x1="124.80" y1="510.60" x2="178.80" y2="510.60" stroke="#0a0a0a" stroke-width="1.8"/>
<polygon points="145.50,510.60 160.30,504.40 160.30,516.80" fill="#fff" stroke="#1a1a1a" stroke-width="1.0" stroke-linejoin="miter"/>
<text x="186.00" y="519.00" font-size="24.5" text-anchor="start" font-weight="normal" >3</text>
<text x="159.79" y="576.80" font-size="24.5" text-anchor="middle" font-weight="normal" >2.8</text>
<text x="281.57" y="576.80" font-size="24.5" text-anchor="middle" font-weight="normal" >3.2</text>
<text x="403.34" y="576.80" font-size="24.5" text-anchor="middle" font-weight="normal" >3.6</text>
<text x="525.12" y="576.80" font-size="24.5" text-anchor="middle" font-weight="normal" >4.0</text>
<text x="646.90" y="576.80" font-size="24.5" text-anchor="middle" font-weight="normal" >4.4</text>
<text x="51" y="77.20" font-size="24" text-anchor="start">10<tspan font-size="16" dy="-11.5" dx="0.5">-1</tspan></text>
<text x="51" y="235.50" font-size="24" text-anchor="start">10<tspan font-size="16" dy="-11.5" dx="0.5">-2</tspan></text>
<text x="51" y="393.80" font-size="24" text-anchor="start">10<tspan font-size="16" dy="-11.5" dx="0.5">-3</tspan></text>
<text x="51" y="552.10" font-size="24" text-anchor="start">10<tspan font-size="16" dy="-11.5" dx="0.5">-4</tspan></text>
<text x="123.90" y="59.30" font-size="24.5" text-anchor="middle" font-weight="normal" >100</text>
<text x="222.60" y="59.30" font-size="24.5" text-anchor="middle" font-weight="normal" >60</text>
<text x="344.50" y="59.30" font-size="24.5" text-anchor="middle" font-weight="normal" >20</text>
<text x="466.60" y="59.30" font-size="24.5" text-anchor="middle" font-weight="normal" >-10</text>
<text x="617.30" y="59.30" font-size="24.5" text-anchor="middle" font-weight="normal" >-40</text>
<text x="258.8" y="25" font-size="25.2" text-anchor="start">Temperature (<tspan font-size="18" dy="-12" dx="0.8">o</tspan><tspan dy="12" dx="0.8">C)</tspan></text>
<text x="308.0" y="603.8" font-size="25.2" text-anchor="start">1000/T (K<tspan font-size="16.5" dy="-11.5" dx="0.5">-1</tspan><tspan dy="11.5" dx="0.5">)</tspan></text>
<text transform="translate(30.5,417.3) rotate(-90)" font-size="25.2" text-anchor="start">Conductivity (S cm<tspan font-size="16.5" dy="-12" dx="0.5">-1</tspan><tspan dy="12" dx="0.5">)</tspan></text>
<text x="621.30" y="530.60" font-size="28.5" text-anchor="middle" font-weight="bold" >(a)</text>
</g>
<g id="chart-b">
<line x1="100.10" y1="1140.19" x2="648.30" y2="1140.19" stroke="#999" stroke-width="1.2"/>
<line x1="100.10" y1="1071.67" x2="648.30" y2="1071.67" stroke="#999" stroke-width="1.2"/>
<line x1="100.10" y1="1003.16" x2="648.30" y2="1003.16" stroke="#999" stroke-width="1.2"/>
<line x1="100.10" y1="934.65" x2="648.30" y2="934.65" stroke="#999" stroke-width="1.2"/>
<line x1="100.10" y1="866.14" x2="648.30" y2="866.14" stroke="#999" stroke-width="1.2"/>
<line x1="100.10" y1="797.62" x2="648.30" y2="797.62" stroke="#999" stroke-width="1.2"/>
<line x1="100.10" y1="729.11" x2="648.30" y2="729.11" stroke="#999" stroke-width="1.2"/>
<line x1="191.47" y1="660.60" x2="191.47" y2="1208.70" stroke="#999" stroke-width="1.2"/>
<line x1="282.83" y1="660.60" x2="282.83" y2="1208.70" stroke="#999" stroke-width="1.2"/>
<line x1="374.20" y1="660.60" x2="374.20" y2="1208.70" stroke="#999" stroke-width="1.2"/>
<line x1="465.57" y1="660.60" x2="465.57" y2="1208.70" stroke="#999" stroke-width="1.2"/>
<line x1="556.93" y1="660.60" x2="556.93" y2="1208.70" stroke="#999" stroke-width="1.2"/>
<line x1="100.10" y1="1140.19" x2="110.10" y2="1140.19" stroke="#4a4a4a" stroke-width="1.3"/>
<line x1="638.30" y1="1140.19" x2="648.30" y2="1140.19" stroke="#4a4a4a" stroke-width="1.3"/>
<line x1="100.10" y1="1071.67" x2="110.10" y2="1071.67" stroke="#4a4a4a" stroke-width="1.3"/>
<line x1="638.30" y1="1071.67" x2="648.30" y2="1071.67" stroke="#4a4a4a" stroke-width="1.3"/>
<line x1="100.10" y1="1003.16" x2="110.10" y2="1003.16" stroke="#4a4a4a" stroke-width="1.3"/>
<line x1="638.30" y1="1003.16" x2="648.30" y2="1003.16" stroke="#4a4a4a" stroke-width="1.3"/>
<line x1="100.10" y1="934.65" x2="110.10" y2="934.65" stroke="#4a4a4a" stroke-width="1.3"/>
<line x1="638.30" y1="934.65" x2="648.30" y2="934.65" stroke="#4a4a4a" stroke-width="1.3"/>
<line x1="100.10" y1="866.14" x2="110.10" y2="866.14" stroke="#4a4a4a" stroke-width="1.3"/>
<line x1="638.30" y1="866.14" x2="648.30" y2="866.14" stroke="#4a4a4a" stroke-width="1.3"/>
<line x1="100.10" y1="797.62" x2="110.10" y2="797.62" stroke="#4a4a4a" stroke-width="1.3"/>
<line x1="638.30" y1="797.62" x2="648.30" y2="797.62" stroke="#4a4a4a" stroke-width="1.3"/>
<line x1="100.10" y1="729.11" x2="110.10" y2="729.11" stroke="#4a4a4a" stroke-width="1.3"/>
<line x1="638.30" y1="729.11" x2="648.30" y2="729.11" stroke="#4a4a4a" stroke-width="1.3"/>
<line x1="191.47" y1="1200.70" x2="191.47" y2="1208.70" stroke="#4a4a4a" stroke-width="1.3"/>
<line x1="282.83" y1="1200.70" x2="282.83" y2="1208.70" stroke="#4a4a4a" stroke-width="1.3"/>
<line x1="374.20" y1="1200.70" x2="374.20" y2="1208.70" stroke="#4a4a4a" stroke-width="1.3"/>
<line x1="465.57" y1="1200.70" x2="465.57" y2="1208.70" stroke="#4a4a4a" stroke-width="1.3"/>
<line x1="556.93" y1="1200.70" x2="556.93" y2="1208.70" stroke="#4a4a4a" stroke-width="1.3"/>
<line x1="143.80" y1="660.60" x2="143.80" y2="668.60" stroke="#4a4a4a" stroke-width="1.3"/>
<text x="143.50" y="655.60" font-size="24.5" text-anchor="middle" font-weight="normal" >40</text>
<line x1="187.80" y1="660.60" x2="187.80" y2="668.60" stroke="#4a4a4a" stroke-width="1.3"/>
<text x="187.50" y="655.60" font-size="24.5" text-anchor="middle" font-weight="normal" >20</text>
<line x1="266.00" y1="660.60" x2="266.00" y2="668.60" stroke="#4a4a4a" stroke-width="1.3"/>
<text x="265.70" y="655.60" font-size="24.5" text-anchor="middle" font-weight="normal" >10</text>
<line x1="299.00" y1="660.60" x2="299.00" y2="668.60" stroke="#4a4a4a" stroke-width="1.3"/>
<text x="298.70" y="655.60" font-size="24.5" text-anchor="middle" font-weight="normal" >8</text>
<line x1="364.80" y1="660.60" x2="364.80" y2="668.60" stroke="#4a4a4a" stroke-width="1.3"/>
<text x="364.50" y="655.60" font-size="24.5" text-anchor="middle" font-weight="normal" >6</text>
<line x1="407.30" y1="660.60" x2="407.30" y2="668.60" stroke="#4a4a4a" stroke-width="1.3"/>
<text x="407.00" y="655.60" font-size="24.5" text-anchor="middle" font-weight="normal" >5</text>
<line x1="465.30" y1="660.60" x2="465.30" y2="668.60" stroke="#4a4a4a" stroke-width="1.3"/>
<text x="465.00" y="655.60" font-size="24.5" text-anchor="middle" font-weight="normal" >4</text>
<line x1="556.90" y1="660.60" x2="556.90" y2="668.60" stroke="#4a4a4a" stroke-width="1.3"/>
<text x="556.60" y="655.60" font-size="24.5" text-anchor="middle" font-weight="normal" >3</text>
<polyline points="144.67,932.32 159.05,847.50 165.36,835.58 173.19,810.37 187.12,745.83 200.82,684.92 221.92,703.35 266.22,758.37 303.14,823.66 361.15,889.77 404.66,950.75 465.57,1007.55 556.93,1108.06" fill="none" stroke="#0a0a0a" stroke-width="1.9" stroke-linejoin="round" />
<circle cx="144.67" cy="932.32" r="5.85" fill="#fff" stroke="#2a2a2a" stroke-width="1.0" stroke-linejoin="miter"/>
<circle cx="159.05" cy="847.50" r="5.85" fill="#fff" stroke="#2a2a2a" stroke-width="1.0" stroke-linejoin="miter"/>
<circle cx="165.36" cy="835.58" r="5.85" fill="#fff" stroke="#2a2a2a" stroke-width="1.0" stroke-linejoin="miter"/>
<circle cx="173.19" cy="810.37" r="5.85" fill="#fff" stroke="#2a2a2a" stroke-width="1.0" stroke-linejoin="miter"/>
<circle cx="187.12" cy="745.83" r="5.85" fill="#fff" stroke="#2a2a2a" stroke-width="1.0" stroke-linejoin="miter"/>
<circle cx="200.82" cy="684.92" r="5.85" fill="#fff" stroke="#2a2a2a" stroke-width="1.0" stroke-linejoin="miter"/>
<circle cx="221.92" cy="703.35" r="5.85" fill="#fff" stroke="#2a2a2a" stroke-width="1.0" stroke-linejoin="miter"/>
<circle cx="266.22" cy="758.37" r="5.85" fill="#fff" stroke="#2a2a2a" stroke-width="1.0" stroke-linejoin="miter"/>
<circle cx="303.14" cy="823.66" r="5.85" fill="#fff" stroke="#2a2a2a" stroke-width="1.0" stroke-linejoin="miter"/>
<circle cx="361.15" cy="889.77" r="5.85" fill="#fff" stroke="#2a2a2a" stroke-width="1.0" stroke-linejoin="miter"/>
<circle cx="404.66" cy="950.75" r="5.85" fill="#fff" stroke="#2a2a2a" stroke-width="1.0" stroke-linejoin="miter"/>
<circle cx="465.57" cy="1007.55" r="5.85" fill="#fff" stroke="#2a2a2a" stroke-width="1.0" stroke-linejoin="miter"/>
<circle cx="556.93" cy="1108.06" r="5.85" fill="#fff" stroke="#2a2a2a" stroke-width="1.0" stroke-linejoin="miter"/>
<polyline points="144.67,971.92 159.05,948.70 165.36,917.80 173.19,910.33 187.12,877.65 200.82,864.29 221.92,841.68 266.22,892.17 303.14,941.50 361.15,996.24 404.66,1012.55 465.57,1064.55 556.93,1120.59" fill="none" stroke="#0a0a0a" stroke-width="1.9" stroke-linejoin="round" />
<circle cx="144.67" cy="971.92" r="5.85" fill="#000" stroke="#000" stroke-width="1.0" stroke-linejoin="miter"/>
<circle cx="159.05" cy="948.70" r="5.85" fill="#000" stroke="#000" stroke-width="1.0" stroke-linejoin="miter"/>
<circle cx="165.36" cy="917.80" r="5.85" fill="#000" stroke="#000" stroke-width="1.0" stroke-linejoin="miter"/>
<circle cx="173.19" cy="910.33" r="5.85" fill="#000" stroke="#000" stroke-width="1.0" stroke-linejoin="miter"/>
<circle cx="187.12" cy="877.65" r="5.85" fill="#000" stroke="#000" stroke-width="1.0" stroke-linejoin="miter"/>
<circle cx="200.82" cy="864.29" r="5.85" fill="#000" stroke="#000" stroke-width="1.0" stroke-linejoin="miter"/>
<circle cx="221.92" cy="841.68" r="5.85" fill="#000" stroke="#000" stroke-width="1.0" stroke-linejoin="miter"/>
<circle cx="266.22" cy="892.17" r="5.85" fill="#000" stroke="#000" stroke-width="1.0" stroke-linejoin="miter"/>
<circle cx="303.14" cy="941.50" r="5.85" fill="#000" stroke="#000" stroke-width="1.0" stroke-linejoin="miter"/>
<circle cx="361.15" cy="996.24" r="5.85" fill="#000" stroke="#000" stroke-width="1.0" stroke-linejoin="miter"/>
<circle cx="404.66" cy="1012.55" r="5.85" fill="#000" stroke="#000" stroke-width="1.0" stroke-linejoin="miter"/>
<circle cx="465.57" cy="1064.55" r="5.85" fill="#000" stroke="#000" stroke-width="1.0" stroke-linejoin="miter"/>
<circle cx="556.93" cy="1120.59" r="5.85" fill="#000" stroke="#000" stroke-width="1.0" stroke-linejoin="miter"/>
<polyline points="144.67,1020.02 159.05,983.23 165.36,959.38 173.19,940.68 187.12,913.89 200.82,898.13 221.92,888.06 266.22,914.78 303.14,965.89 361.15,996.24 404.66,1013.17 465.57,1063.11 556.93,1110.73" fill="none" stroke="#0a0a0a" stroke-width="1.9" stroke-linejoin="round" />
<rect x="138.77" y="1014.12" width="11.80" height="11.80" fill="#000" stroke="#000" stroke-width="1.0" stroke-linejoin="miter"/>
<rect x="153.15" y="977.33" width="11.80" height="11.80" fill="#000" stroke="#000" stroke-width="1.0" stroke-linejoin="miter"/>
<rect x="159.46" y="953.48" width="11.80" height="11.80" fill="#000" stroke="#000" stroke-width="1.0" stroke-linejoin="miter"/>
<rect x="167.29" y="934.78" width="11.80" height="11.80" fill="#000" stroke="#000" stroke-width="1.0" stroke-linejoin="miter"/>
<rect x="181.22" y="907.99" width="11.80" height="11.80" fill="#000" stroke="#000" stroke-width="1.0" stroke-linejoin="miter"/>
<rect x="194.92" y="892.23" width="11.80" height="11.80" fill="#000" stroke="#000" stroke-width="1.0" stroke-linejoin="miter"/>
<rect x="216.02" y="882.16" width="11.80" height="11.80" fill="#000" stroke="#000" stroke-width="1.0" stroke-linejoin="miter"/>
<rect x="260.32" y="908.88" width="11.80" height="11.80" fill="#000" stroke="#000" stroke-width="1.0" stroke-linejoin="miter"/>
<rect x="297.24" y="959.99" width="11.80" height="11.80" fill="#000" stroke="#000" stroke-width="1.0" stroke-linejoin="miter"/>
<rect x="355.25" y="990.34" width="11.80" height="11.80" fill="#000" stroke="#000" stroke-width="1.0" stroke-linejoin="miter"/>
<rect x="398.76" y="1007.27" width="11.80" height="11.80" fill="#000" stroke="#000" stroke-width="1.0" stroke-linejoin="miter"/>
<rect x="459.67" y="1057.21" width="11.80" height="11.80" fill="#000" stroke="#000" stroke-width="1.0" stroke-linejoin="miter"/>
<rect x="551.03" y="1104.83" width="11.80" height="11.80" fill="#000" stroke="#000" stroke-width="1.0" stroke-linejoin="miter"/>
<polyline points="144.67,1082.98 159.05,1074.69 165.36,1068.11 173.19,1056.26 187.12,1047.90 200.82,1045.50 221.92,1034.54 266.22,1038.99 303.14,1049.34 361.15,1048.24 404.66,1069.96 465.57,1077.98 556.93,1110.32" fill="none" stroke="#0a0a0a" stroke-width="1.9" stroke-linejoin="round" />
<rect x="138.77" y="1077.08" width="11.80" height="11.80" fill="#fff" stroke="#2a2a2a" stroke-width="1.0" stroke-linejoin="miter"/>
<rect x="153.15" y="1068.79" width="11.80" height="11.80" fill="#fff" stroke="#2a2a2a" stroke-width="1.0" stroke-linejoin="miter"/>
<rect x="159.46" y="1062.21" width="11.80" height="11.80" fill="#fff" stroke="#2a2a2a" stroke-width="1.0" stroke-linejoin="miter"/>
<rect x="167.29" y="1050.36" width="11.80" height="11.80" fill="#fff" stroke="#2a2a2a" stroke-width="1.0" stroke-linejoin="miter"/>
<rect x="181.22" y="1042.00" width="11.80" height="11.80" fill="#fff" stroke="#2a2a2a" stroke-width="1.0" stroke-linejoin="miter"/>
<rect x="194.92" y="1039.60" width="11.80" height="11.80" fill="#fff" stroke="#2a2a2a" stroke-width="1.0" stroke-linejoin="miter"/>
<rect x="216.02" y="1028.64" width="11.80" height="11.80" fill="#fff" stroke="#2a2a2a" stroke-width="1.0" stroke-linejoin="miter"/>
<rect x="260.32" y="1033.09" width="11.80" height="11.80" fill="#fff" stroke="#2a2a2a" stroke-width="1.0" stroke-linejoin="miter"/>
<rect x="297.24" y="1043.44" width="11.80" height="11.80" fill="#fff" stroke="#2a2a2a" stroke-width="1.0" stroke-linejoin="miter"/>
<rect x="355.25" y="1042.34" width="11.80" height="11.80" fill="#fff" stroke="#2a2a2a" stroke-width="1.0" stroke-linejoin="miter"/>
<rect x="398.76" y="1064.06" width="11.80" height="11.80" fill="#fff" stroke="#2a2a2a" stroke-width="1.0" stroke-linejoin="miter"/>
<rect x="459.67" y="1072.08" width="11.80" height="11.80" fill="#fff" stroke="#2a2a2a" stroke-width="1.0" stroke-linejoin="miter"/>
<rect x="551.03" y="1104.42" width="11.80" height="11.80" fill="#fff" stroke="#2a2a2a" stroke-width="1.0" stroke-linejoin="miter"/>
<polyline points="144.67,1190.00 159.05,1186.09 165.36,1183.14 173.19,1181.64 187.12,1182.25 200.82,1178.69 221.92,1172.73 266.22,1173.35 303.14,1176.29 361.15,1180.61 404.66,1181.09 465.57,1186.78 556.93,1192.53" fill="none" stroke="#0a0a0a" stroke-width="1.9" stroke-linejoin="round" />
<polygon points="144.67,1183.10 151.37,1190.00 144.67,1196.90 137.97,1190.00" fill="#fff" stroke="#2a2a2a" stroke-width="1.0" stroke-linejoin="miter"/>
<polygon points="159.05,1179.19 165.75,1186.09 159.05,1192.99 152.35,1186.09" fill="#fff" stroke="#2a2a2a" stroke-width="1.0" stroke-linejoin="miter"/>
<polygon points="165.36,1176.24 172.06,1183.14 165.36,1190.04 158.66,1183.14" fill="#fff" stroke="#2a2a2a" stroke-width="1.0" stroke-linejoin="miter"/>
<polygon points="173.19,1174.74 179.89,1181.64 173.19,1188.54 166.49,1181.64" fill="#fff" stroke="#2a2a2a" stroke-width="1.0" stroke-linejoin="miter"/>
<polygon points="187.12,1175.35 193.82,1182.25 187.12,1189.15 180.42,1182.25" fill="#fff" stroke="#2a2a2a" stroke-width="1.0" stroke-linejoin="miter"/>
<polygon points="200.82,1171.79 207.52,1178.69 200.82,1185.59 194.12,1178.69" fill="#fff" stroke="#2a2a2a" stroke-width="1.0" stroke-linejoin="miter"/>
<polygon points="221.92,1165.83 228.62,1172.73 221.92,1179.63 215.22,1172.73" fill="#fff" stroke="#2a2a2a" stroke-width="1.0" stroke-linejoin="miter"/>
<polygon points="266.22,1166.45 272.92,1173.35 266.22,1180.25 259.52,1173.35" fill="#fff" stroke="#2a2a2a" stroke-width="1.0" stroke-linejoin="miter"/>
<polygon points="303.14,1169.39 309.84,1176.29 303.14,1183.19 296.44,1176.29" fill="#fff" stroke="#2a2a2a" stroke-width="1.0" stroke-linejoin="miter"/>
<polygon points="361.15,1173.71 367.85,1180.61 361.15,1187.51 354.45,1180.61" fill="#fff" stroke="#2a2a2a" stroke-width="1.0" stroke-linejoin="miter"/>
<polygon points="404.66,1174.19 411.36,1181.09 404.66,1187.99 397.96,1181.09" fill="#fff" stroke="#2a2a2a" stroke-width="1.0" stroke-linejoin="miter"/>
<polygon points="465.57,1179.88 472.27,1186.78 465.57,1193.68 458.87,1186.78" fill="#fff" stroke="#2a2a2a" stroke-width="1.0" stroke-linejoin="miter"/>
<polygon points="556.93,1185.63 563.63,1192.53 556.93,1199.43 550.23,1192.53" fill="#fff" stroke="#2a2a2a" stroke-width="1.0" stroke-linejoin="miter"/>
<polyline points="144.67,994.19 159.05,962.95 165.36,946.64 173.19,940.68 187.12,922.80 200.82,909.44 221.92,908.82 266.22,921.91 303.14,948.70 361.15,958.15 404.66,1000.70 465.57,1039.34" fill="none" stroke="#0a0a0a" stroke-width="1.9" stroke-linejoin="round" />
<polygon points="137.77,988.49 151.57,988.49 144.67,999.89" fill="#fff" stroke="#2a2a2a" stroke-width="1.0" stroke-linejoin="miter"/>
<polygon points="152.15,957.25 165.95,957.25 159.05,968.65" fill="#fff" stroke="#2a2a2a" stroke-width="1.0" stroke-linejoin="miter"/>
<polygon points="158.46,940.94 172.26,940.94 165.36,952.34" fill="#fff" stroke="#2a2a2a" stroke-width="1.0" stroke-linejoin="miter"/>
<polygon points="166.29,934.98 180.09,934.98 173.19,946.38" fill="#fff" stroke="#2a2a2a" stroke-width="1.0" stroke-linejoin="miter"/>
<polygon points="180.22,917.10 194.02,917.10 187.12,928.50" fill="#fff" stroke="#2a2a2a" stroke-width="1.0" stroke-linejoin="miter"/>
<polygon points="193.92,903.74 207.72,903.74 200.82,915.14" fill="#fff" stroke="#2a2a2a" stroke-width="1.0" stroke-linejoin="miter"/>
<polygon points="215.02,903.12 228.82,903.12 221.92,914.52" fill="#fff" stroke="#2a2a2a" stroke-width="1.0" stroke-linejoin="miter"/>
<polygon points="259.32,916.21 273.12,916.21 266.22,927.61" fill="#fff" stroke="#2a2a2a" stroke-width="1.0" stroke-linejoin="miter"/>
<polygon points="296.24,943.00 310.04,943.00 303.14,954.40" fill="#fff" stroke="#2a2a2a" stroke-width="1.0" stroke-linejoin="miter"/>
<polygon points="354.25,952.45 368.05,952.45 361.15,963.85" fill="#fff" stroke="#2a2a2a" stroke-width="1.0" stroke-linejoin="miter"/>
<polygon points="397.76,995.00 411.56,995.00 404.66,1006.40" fill="#fff" stroke="#2a2a2a" stroke-width="1.0" stroke-linejoin="miter"/>
<polygon points="458.67,1033.64 472.47,1033.64 465.57,1045.04" fill="#fff" stroke="#2a2a2a" stroke-width="1.0" stroke-linejoin="miter"/>
<rect x="100.1" y="660.6" width="548.1999999999999" height="548.1" fill="none" stroke="#4a4a4a" stroke-width="1.4"/>
<rect x="437.8" y="684.3" width="186.2" height="218.0" fill="#fff" stroke="#222" stroke-width="1.7"/>
<line x1="448.80" y1="706.40" x2="501.00" y2="706.40" stroke="#0a0a0a" stroke-width="1.7"/>
<circle cx="475.10" cy="706.40" r="5.85" fill="#fff" stroke="#2a2a2a" stroke-width="1.0" stroke-linejoin="miter"/>
<text x="507.3" y="714.80" font-size="25" text-anchor="start">LiPF<tspan font-size="17" dy="7">6</tspan></text>
<line x1="448.80" y1="739.95" x2="501.00" y2="739.95" stroke="#0a0a0a" stroke-width="1.7"/>
<circle cx="475.10" cy="739.95" r="5.85" fill="#000" stroke="#000" stroke-width="1.0" stroke-linejoin="miter"/>
<text x="507.3" y="748.35" font-size="25" text-anchor="start">LiTFSI</text>
<line x1="448.80" y1="773.50" x2="501.00" y2="773.50" stroke="#0a0a0a" stroke-width="1.7"/>
<rect x="469.20" y="767.60" width="11.80" height="11.80" fill="#000" stroke="#000" stroke-width="1.0" stroke-linejoin="miter"/>
<text x="507.3" y="781.90" font-size="25" text-anchor="start">LiClO<tspan font-size="17" dy="7">4</tspan></text>
<line x1="448.80" y1="807.05" x2="501.00" y2="807.05" stroke="#0a0a0a" stroke-width="1.7"/>
<rect x="469.20" y="801.15" width="11.80" height="11.80" fill="#fff" stroke="#2a2a2a" stroke-width="1.0" stroke-linejoin="miter"/>
<text x="507.3" y="815.45" font-size="25" text-anchor="start">LiBF<tspan font-size="17" dy="7">4</tspan></text>
<line x1="448.80" y1="840.60" x2="501.00" y2="840.60" stroke="#0a0a0a" stroke-width="1.7"/>
<polygon points="475.10,833.70 481.80,840.60 475.10,847.50 468.40,840.60" fill="#fff" stroke="#2a2a2a" stroke-width="1.0" stroke-linejoin="miter"/>
<text x="507.3" y="849.00" font-size="25" text-anchor="start">LiCF<tspan font-size="17" dy="7">3</tspan><tspan dy="-7">CO</tspan><tspan font-size="17" dy="7">2</tspan></text>
<line x1="448.80" y1="874.15" x2="501.00" y2="874.15" stroke="#0a0a0a" stroke-width="1.7"/>
<polygon points="468.20,868.45 482.00,868.45 475.10,879.85" fill="#fff" stroke="#2a2a2a" stroke-width="1.0" stroke-linejoin="miter"/>
<text x="507.3" y="882.55" font-size="25" text-anchor="start">LiDFOB</text>
<text x="100.30" y="1239.70" font-size="24.5" text-anchor="middle" font-weight="normal" >0</text>
<text x="191.67" y="1239.70" font-size="24.5" text-anchor="middle" font-weight="normal" >0.05</text>
<text x="283.03" y="1239.70" font-size="24.5" text-anchor="middle" font-weight="normal" >0.10</text>
<text x="374.40" y="1239.70" font-size="24.5" text-anchor="middle" font-weight="normal" >0.15</text>
<text x="465.77" y="1239.70" font-size="24.5" text-anchor="middle" font-weight="normal" >0.20</text>
<text x="557.13" y="1239.70" font-size="24.5" text-anchor="middle" font-weight="normal" >0.25</text>
<text x="648.50" y="1239.70" font-size="24.5" text-anchor="middle" font-weight="normal" >0.30</text>
<text x="89.00" y="1215.00" font-size="24.5" text-anchor="end" font-weight="normal" >0</text>
<text x="89.00" y="1146.49" font-size="24.5" text-anchor="end" font-weight="normal" >0.01</text>
<text x="89.00" y="1077.97" font-size="24.5" text-anchor="end" font-weight="normal" >0.02</text>
<text x="89.00" y="1009.46" font-size="24.5" text-anchor="end" font-weight="normal" >0.03</text>
<text x="89.00" y="940.95" font-size="24.5" text-anchor="end" font-weight="normal" >0.04</text>
<text x="89.00" y="872.44" font-size="24.5" text-anchor="end" font-weight="normal" >0.05</text>
<text x="89.00" y="803.92" font-size="24.5" text-anchor="end" font-weight="normal" >0.06</text>
<text x="89.00" y="735.41" font-size="24.5" text-anchor="end" font-weight="normal" >0.07</text>
<text x="89.00" y="666.90" font-size="24.5" text-anchor="end" font-weight="normal" >0.08</text>
<text x="653.60" y="628.40" font-size="24.6" text-anchor="end" font-weight="normal" >AN/Li (n)</text>
<text x="356.6" y="1269.6" font-size="24" text-anchor="start">x<tspan font-size="15.5" dy="6.2">LiX</tspan></text>
<text transform="translate(30.7,1045.3) rotate(-90)" font-size="24.5" text-anchor="start">Conductivity (S cm<tspan font-size="16" dy="-12" dx="0.5">-1</tspan><tspan dy="12" dx="0.5">)</tspan></text>
<text x="620.20" y="1191.80" font-size="28.5" text-anchor="middle" font-weight="bold" >(b)</text>
</g>
</svg></body></html>
